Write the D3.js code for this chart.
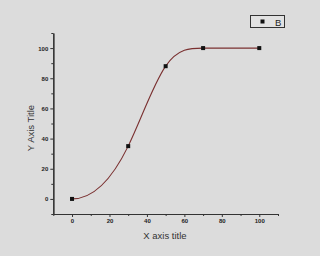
<!DOCTYPE html>
<html><head><meta charset="utf-8">
<script src="https://cdn.jsdelivr.net/npm/d3@7"></script>
<style>body{margin:0;background:#dcdcdc;}svg{display:block;}</style>
</head><body>
<script>
const xValues = [0, 30, 50, 70, 100];
const yValues = [0, 35, 88, 100, 100];
const seriesName = "B";
const xTicks = [0, 20, 40, 60, 80, 100];
const yTicks = [0, 20, 40, 60, 80, 100];
const xMinor = [-10, 10, 30, 50, 70, 90, 110];
const yMinor = [-10, 10, 30, 50, 70, 90, 110];

// Custom d3 curve: clamped cubic spline (zero end slopes)
function ClampedSpline(context) { this._context = context; }
ClampedSpline.prototype = {
  areaStart() { this._line = 0; }, areaEnd() { this._line = NaN; },
  lineStart() { this._px = []; this._py = []; },
  point(x, y) { this._px.push(+x); this._py.push(+y); },
  lineEnd() {
    const X = this._px, Y = this._py, n = X.length, c = this._context;
    if (!n) return;
    c.moveTo(X[0], Y[0]);
    if (n < 3) { if (n === 2) c.lineTo(X[1], Y[1]); return; }
    const h = [], s = [];
    for (let i = 0; i < n - 1; i++) { h.push(X[i+1]-X[i]); s.push((Y[i+1]-Y[i])/h[i]); }
    const m = new Array(n).fill(0);
    const k = n - 2, a = [], b = [], cc = [], d = [];
    for (let j = 0; j < k; j++) {
      const i = j + 1;
      a.push(1/h[i-1]); b.push(2*(1/h[i-1]+1/h[i])); cc.push(1/h[i]);
      d.push(3*(s[i-1]/h[i-1] + s[i]/h[i]));
    }
    for (let j = 1; j < k; j++) { const w = a[j]/b[j-1]; b[j] -= w*cc[j-1]; d[j] -= w*d[j-1]; }
    const sol = new Array(k);
    sol[k-1] = d[k-1]/b[k-1];
    for (let j = k-2; j >= 0; j--) sol[j] = (d[j]-cc[j]*sol[j+1])/b[j];
    for (let j = 0; j < k; j++) m[j+1] = sol[j];
    for (let i = 0; i < n - 1; i++) {
      const dx = h[i]/3;
      c.bezierCurveTo(X[i]+dx, Y[i]+m[i]*dx, X[i+1]-dx, Y[i+1]-m[i+1]*dx, X[i+1], Y[i+1]);
    }
  }
};
const curveClamped = ctx => new ClampedSpline(ctx);

const W = 320, H = 256;
const svg = d3.select("body").append("svg").attr("width", W).attr("height", H);
svg.append("rect").attr("width", W).attr("height", H).attr("fill", "#dcdcdc");

const x = d3.scaleLinear().domain([-10, 110]).range([53.3, 278]);
const y = d3.scaleLinear().domain([-10, 110]).range([214, 33]);

const axisColor = "#333";
const xAxis = d3.axisBottom(x).tickValues(xTicks).tickSize(3).tickSizeOuter(0).tickPadding(2);
svg.append("g").attr("transform", `translate(0,${y(-10)})`).call(xAxis);
const xMinorAxis = d3.axisBottom(x).tickValues(xMinor).tickSize(2).tickFormat("").tickSizeOuter(0);
svg.append("g").attr("transform", `translate(0,${y(-10)})`).call(xMinorAxis);

const yAxis = d3.axisLeft(y).tickValues(yTicks).tickSize(3).tickSizeOuter(0).tickPadding(2);
svg.append("g").attr("transform", `translate(${x(-10)},0)`).call(yAxis);
const yMinorAxis = d3.axisLeft(y).tickValues(yMinor).tickSize(2).tickFormat("").tickSizeOuter(0);
svg.append("g").attr("transform", `translate(${x(-10)},0)`).call(yMinorAxis);

svg.selectAll(".domain").attr("stroke", axisColor).attr("stroke-width", 1.2);
svg.selectAll(".tick line").attr("stroke", axisColor);
svg.selectAll(".tick text").attr("font-family", "Arial, Liberation Sans, sans-serif")
  .attr("font-size", 6).attr("font-weight", "bold").attr("fill", "#222");

const data = xValues.map((v, i) => ({x: v, y: yValues[i]}));
const line = d3.line().x(d => x(d.x)).y(d => y(d.y)).curve(curveClamped);
svg.append("path").datum(data).attr("d", line).attr("fill", "none")
  .attr("stroke", "#7a3030").attr("stroke-width", 1.1);

svg.selectAll("rect.pt").data(data).enter().append("rect").attr("class", "pt")
  .attr("x", d => x(d.x) - 2).attr("y", d => y(d.y) - 2)
  .attr("width", 4).attr("height", 4).attr("fill", "#111");

svg.append("text").attr("x", 165).attr("y", 239).attr("text-anchor", "middle")
  .attr("font-family", "Arial, Liberation Sans, sans-serif").attr("font-size", 9.5).attr("fill", "#333")
  .text("X axis title");
svg.append("text").attr("transform", "translate(34,128) rotate(-90)").attr("text-anchor", "middle")
  .attr("font-family", "Arial, Liberation Sans, sans-serif").attr("font-size", 9.5).attr("fill", "#333")
  .text("Y Axis Title");

const lg = svg.append("g");
lg.append("rect").attr("x", 250.5).attr("y", 15.5).attr("width", 34).attr("height", 12)
  .attr("fill", "#e2e2e2").attr("stroke", "#333").attr("stroke-width", 1);
lg.append("rect").attr("x", 260.5).attr("y", 19.5).attr("width", 4).attr("height", 4).attr("fill", "#111");
lg.append("text").attr("x", 275).attr("y", 25.5).attr("font-family", "Arial, Liberation Sans, sans-serif")
  .attr("font-size", 9.5).attr("fill", "#222").text(seriesName);
</script>
</body></html>
